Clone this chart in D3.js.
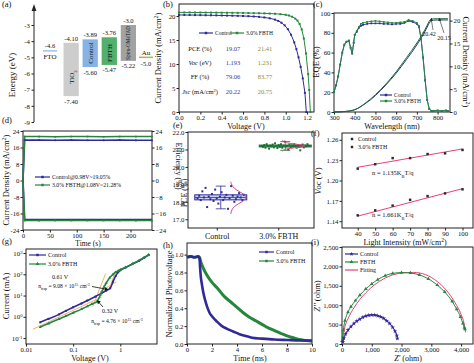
<!DOCTYPE html>
<html>
<head>
<meta charset="utf-8">
<script src="https://cdn.jsdelivr.net/npm/d3@7"></script>
<style>
  body { margin: 0; background: #fff; }
  svg text { font-family: "Liberation Serif", "Times New Roman", serif; fill: #111; }
  .tick text { font-size: 6.8px; font-family: "Liberation Serif", serif; }
  .tick line { stroke: #222; }
</style>
</head>
<body>
<script>
// ---------- data ----------
// (a) energy levels (eV)
const levelNames = ["TiO2", "Control", "FBTH", "Spiro-OMeTAD"];
const levelTop = [-4.10, -3.89, -3.76, -3.0];
const levelBottom = [-7.40, -5.60, -5.47, -5.22];
const levelTopText = ["-4.10", "-3.89", "-3.76", "-3.0"];
const levelBottomText = ["-7.40", "-5.60", "-5.47", "-5.22"];
const electrodeNames = ["FTO", "Au"];
const electrodeLevel = [-4.6, -5.0];
const electrodeText = ["-4.6", "-5.0"];

// (b) J-V
const jvCtrlV = [0, 0.05, 0.1, 0.15, 0.2, 0.25, 0.3, 0.35, 0.4, 0.45, 0.5, 0.55, 0.6, 0.65, 0.7, 0.75, 0.8, 0.85, 0.9, 0.93, 0.96, 0.99, 1.02, 1.05, 1.08, 1.1, 1.12, 1.14, 1.16, 1.18, 1.193];
const jvCtrlJ = [20.22, 20.21, 20.2, 20.19, 20.18, 20.16, 20.15, 20.13, 20.11, 20.09, 20.06, 20.03, 20.0, 19.96, 19.9, 19.82, 19.7, 19.52, 19.25, 18.98, 18.6, 18.05, 17.25, 16.1, 14.5, 13.1, 11.4, 9.4, 7.0, 4.0, 0];
const jvFbthV = [0, 0.05, 0.1, 0.15, 0.2, 0.25, 0.3, 0.35, 0.4, 0.45, 0.5, 0.55, 0.6, 0.65, 0.7, 0.75, 0.8, 0.85, 0.9, 0.95, 1.0, 1.03, 1.06, 1.09, 1.11, 1.13, 1.15, 1.17, 1.19, 1.21, 1.22, 1.231];
const jvFbthJ = [20.75, 20.74, 20.74, 20.73, 20.73, 20.72, 20.71, 20.7, 20.69, 20.68, 20.67, 20.66, 20.64, 20.62, 20.6, 20.58, 20.55, 20.51, 20.46, 20.38, 20.25, 20.1, 19.85, 19.45, 19.05, 18.35, 17.2, 15.3, 12.2, 7.9, 4.6, 0];
const tableRows = ["PCE (%)", "Voc (eV)", "FF (%)", "Jsc (mA/cm2)"];
const tableCtrl = ["19.07", "1.193", "79.06", "20.22"];
const tableFbth = ["21.41", "1.231", "83.77", "20.75"];

// (c) EQE and integrated current
const eqeWl = [300, 310, 320, 330, 340, 350, 360, 372, 380, 388, 395, 400, 410, 420, 430, 440, 460, 480, 500, 520, 540, 560, 580, 600, 620, 640, 660, 680, 700, 710, 720, 730, 740, 750, 760, 770, 780, 800, 820, 840, 850];
const eqeCtrl = [20, 27, 36, 48, 60, 68, 71, 72, 65, 59, 70, 78, 81, 85, 87, 88, 89, 89.5, 89.5, 89.5, 89, 89, 88.5, 89, 89, 90, 92, 91, 89, 86, 74, 55, 32, 12, 3, 1, 1, 1.5, 1, 1.5, 1];
const eqeFbth = [20, 27, 36, 48, 60, 68, 71, 72, 65, 59, 70, 78, 82, 86, 89, 90, 91, 91.5, 92, 91.5, 91, 90.5, 90, 90, 90.5, 91, 93, 92, 90, 87, 75, 55, 32, 12, 3, 1, 1, 1.5, 1, 1.5, 1];
const integWl = [300, 350, 400, 450, 500, 550, 600, 650, 700, 730, 750, 760, 770, 780, 800, 850];
const integCtrl = [0, 0.1, 0.5, 1.8, 3.6, 5.9, 8.5, 11.5, 14.7, 16.9, 18.6, 19.5, 19.9, 20.1, 20.15, 20.15];
const integFbth = [0, 0.1, 0.5, 1.9, 3.8, 6.1, 8.8, 11.9, 15.1, 17.3, 19.0, 19.9, 20.3, 20.4, 20.42, 20.42];

// (d) steady-state output
const mppTime = [0, 3, 30, 60, 90, 120, 150, 180, 210, 240];
const mppCtrlJ = [0, 19.6, 19.6, 19.5, 19.6, 19.5, 19.5, 19.6, 19.5, 19.5];
const mppFbthJ = [0, 21.3, 21.3, 21.2, 21.3, 21.3, 21.2, 21.3, 21.3, 21.3];
const mppCtrlEff = [0, -18.9, -18.9, -18.9, -18.9, -18.9, -18.9, -18.9, -18.9, -18.9];
const mppFbthEff = [0, -19.4, -19.4, -19.4, -19.4, -19.4, -19.4, -19.4, -19.4, -19.4];

// (e) PCE statistics
const pceCats = ["Control", "3.0% FBTH"];
const pceCtrl = [18.2, 18.35, 18.1, 18.6, 18.25, 18.8, 17.7, 18.3, 18.15, 18.45, 18.05, 18.7, 18.2, 17.9, 18.3, 18.55, 18.1, 18.25, 18.4, 17.6, 18.2, 18.9, 18.35, 18.0, 18.15, 18.3, 18.5, 18.25, 18.1, 18.4];
const pceFbth = [21.2, 21.15, 21.25, 21.1, 21.3, 21.2, 21.05, 21.22, 21.18, 21.28, 21.12, 21.35, 21.2, 21.08, 21.25, 21.15, 21.3, 21.1, 21.22, 21.45, 21.18, 21.2, 21.0, 21.27, 21.13, 21.23, 21.17, 21.3, 21.2, 21.1, 21.25, 21.15, 20.95, 21.2, 21.28, 21.12, 21.22, 21.18, 21.3, 21.2];
const distCtrlV = [19.15, 18.95, 18.78, 18.6, 18.42, 18.25, 18.08, 17.9, 17.72, 17.55, 17.3];
const distFbthV = [21.52, 21.44, 21.37, 21.31, 21.26, 21.2, 21.15, 21.1, 21.04, 20.98, 20.9];
const distDensity = [0, 0.06, 0.2, 0.5, 0.85, 1, 0.85, 0.5, 0.2, 0.06, 0];

// (f) Voc vs light intensity
const lightI = [40, 50, 60, 70, 80, 90, 100];
const vocFbth = [1.2175, 1.224, 1.233, 1.233, 1.239, 1.240, 1.245];
const vocCtrl = [1.1486, 1.156, 1.163, 1.1715, 1.177, 1.181, 1.187];
const fitI = [40, 100];
const fitFbth = [1.2195, 1.2465];
const fitCtrl = [1.1475, 1.188];

// (g) SCLC
const sclcV = [0.02, 0.03, 0.05, 0.07, 0.1, 0.15, 0.2, 0.3, 0.4, 0.5, 0.61, 0.7, 0.8, 0.9, 1.0, 1.3, 1.8, 2.5, 3.2, 4.0];
const sclcCtrl = [0.55, 0.8, 1.3, 1.9, 2.8, 4.2, 5.8, 9, 13, 17, 22, 45, 85, 125, 155, 210, 300, 430, 600, 800];
const sclcFbthV = [0.02, 0.03, 0.05, 0.07, 0.1, 0.15, 0.2, 0.25, 0.32, 0.38, 0.45, 0.5, 0.6, 0.7, 0.8, 0.9, 1.0, 1.3, 1.8, 2.5, 3.2, 4.0];
const sclcFbth = [0.33, 0.48, 0.78, 1.1, 1.55, 2.3, 3.1, 4.0, 5.2, 11, 25, 38, 70, 100, 125, 145, 165, 215, 310, 450, 620, 850];
const sclcFitV = [[0.014, 0.4], [0.26, 0.49], [0.37, 0.83], [0.58, 0.78]];
const sclcFitI = [[0.26, 8.5], [3.1, 110], [15, 45], [18, 140]];

// (h) transient photovoltage
const tpvCtrlT = [0, 0.3, 0.6, 0.9, 1.0, 1.05, 1.1, 1.2, 1.3, 1.45, 1.6, 1.8, 2.0, 2.4, 2.8, 3.2, 3.7, 4.2, 4.7, 5.2, 6, 7, 8, 9, 10];
const tpvCtrl = [0.97, 0.98, 0.97, 0.98, 0.96, 0.85, 0.76, 0.66, 0.58, 0.49, 0.42, 0.35, 0.31, 0.25, 0.2, 0.17, 0.14, 0.11, 0.09, 0.07, 0.06, 0.05, 0.045, 0.04, 0.04];
const tpvFbthT = [0, 0.3, 0.6, 0.9, 1.0, 1.1, 1.3, 1.6, 2.0, 2.4, 3.0, 3.5, 4.0, 4.5, 5.0, 5.5, 6.0, 6.5, 7.0, 7.5, 8.0, 8.5, 9.0, 9.5, 10];
const tpvFbth = [0.97, 0.98, 0.97, 0.98, 0.97, 0.92, 0.85, 0.77, 0.69, 0.63, 0.53, 0.47, 0.41, 0.35, 0.3, 0.26, 0.22, 0.18, 0.15, 0.12, 0.09, 0.07, 0.05, 0.04, 0.03];

// (i) Nyquist
const eisCtrlRe = [30, 60, 120, 200, 300, 400, 500, 600, 700, 800, 900, 1000, 1100, 1200, 1300, 1400, 1500, 1600, 1700, 1780, 1840, 1860];
const eisCtrlIm = [60, 150, 260, 360, 450, 530, 590, 640, 690, 720, 740, 750, 745, 730, 700, 660, 600, 530, 430, 330, 220, 140];
const eisFbthRe = [0, 40, 100, 200, 300, 450, 600, 800, 1000, 1200, 1450, 1700, 2000, 2300, 2600, 2900, 3200, 3450, 3700, 3850, 3980, 4060, 4110, 4130];
const eisFbthIm = [80, 350, 600, 820, 960, 1120, 1260, 1420, 1550, 1660, 1760, 1820, 1840, 1830, 1780, 1680, 1520, 1340, 1100, 900, 700, 530, 420, 380];
const fitFbthRe = [0, 100, 200, 400, 600, 800, 1100, 1400, 1700, 2000, 2400, 2800, 3200, 3500, 3800, 4000, 4100, 4150];
const fitFbthIm = [0, 450, 650, 930, 1150, 1320, 1530, 1680, 1780, 1830, 1845, 1790, 1610, 1390, 1060, 760, 530, 300];
const fitCtrlRe = [0, 100, 300, 500, 700, 900, 1100, 1300, 1500, 1700, 1800, 1850];
const fitCtrlIm = [0, 200, 440, 590, 690, 745, 750, 705, 605, 440, 300, 170];

// ---------- helpers ----------
const blue = "#2e2a98", green = "#24873c", pink = "#e6407e", orange = "#f3a85c";
const svg = d3.select("body").append("svg").attr("width", 474).attr("height", 363);

function txt(g, x, y, parts, o = {}) {
  const t = g.append("text").attr("x", x).attr("y", y)
    .attr("font-size", o.size || 8)
    .attr("text-anchor", o.anchor || "start");
  if (o.rot) t.attr("transform", `rotate(${o.rot},${x},${y})`);
  if (o.color) t.style("fill", o.color);
  [].concat(parts).forEach(p => {
    if (typeof p === "string") p = { t: p };
    const s = t.append("tspan").text(p.t);
    if (p.sub) s.attr("baseline-shift", "sub").attr("font-size", "70%");
    if (p.sup) s.attr("baseline-shift", "super").attr("font-size", "70%");
    if (p.i) s.attr("font-style", "italic");
  });
  return t;
}

function axes(g, box, x, y, o) {
  const bx = d3.axisBottom(x).tickValues(o.xt).tickSize(2.5).tickSizeOuter(0).tickPadding(0.5);
  if (o.xf) bx.tickFormat(o.xf);
  const ax = g.append("g").attr("transform", `translate(0,${box.b})`).call(bx);
  const ly = d3.axisLeft(y).tickValues(o.yt).tickSize(2.5).tickSizeOuter(0).tickPadding(1);
  if (o.yf) ly.tickFormat(o.yf);
  const ay = g.append("g").attr("transform", `translate(${box.l},0)`).call(ly);
  g.selectAll(".domain").remove();
  g.append("rect").attr("x", box.l).attr("y", box.t)
    .attr("width", box.r - box.l).attr("height", box.b - box.t)
    .attr("fill", "none").attr("stroke", "#222").attr("stroke-width", 1);
  return [ax, ay];
}

function rightAxis(g, box, y, ticks) {
  g.append("g").attr("transform", `translate(${box.r},0)`)
    .call(d3.axisRight(y).tickValues(ticks).tickSize(2.5).tickPadding(1))
    .select(".domain").remove();
}

function line(g, xs, ys, x, y, color, w, curve) {
  return g.append("path").datum(d3.zip(xs, ys))
    .attr("d", d3.line().x(d => x(d[0])).y(d => y(d[1])).curve(curve || d3.curveLinear))
    .attr("fill", "none").attr("stroke", color).attr("stroke-width", w);
}

function marks(g, xs, ys, x, y, color, shape, size) {
  g.append("g").selectAll("path").data(d3.zip(xs, ys)).join("path")
    .attr("d", d3.symbol(shape, size))
    .attr("transform", d => `translate(${x(d[0])},${y(d[1])})`)
    .attr("fill", color);
}

function legendRow(g, x, y, color, shape, label, size, len) {
  len = len || 14;
  g.append("line").attr("x1", x).attr("x2", x + len).attr("y1", y).attr("y2", y)
    .attr("stroke", color).attr("stroke-width", 1.2);
  if (shape) g.append("path").attr("d", d3.symbol(shape, 6)).attr("transform", `translate(${x + len / 2},${y})`).attr("fill", color);
  txt(g, x + len + 2, y + 2, label, { size: size || 6 });
}

function panelLabel(x, y, s) { txt(svg, x, y, s, { size: 8.5 }); }

// ---------- (a) energy diagram ----------
const gA = svg.append("g");
const yA = d3.scaleLinear([-9, -3], [122, 25]);
const xA = d3.scaleBand(levelNames, [63.5, 136]).paddingInner(0.2);
const barFill = ["#cdcdcd", "#86b2e4", "#52b06c", "#a2a2a2"];
gA.append("line").attr("x1", 34).attr("x2", 34).attr("y1", 122).attr("y2", 10).attr("stroke", "#222");
gA.append("path").attr("d", "M34,4L31.6,11L36.4,11Z").attr("fill", "#222");
gA.append("g").attr("transform", "translate(34,0)")
  .call(d3.axisLeft(yA).tickValues(d3.range(-9, -2)).tickSize(2.5).tickPadding(1.5).tickFormat(d => "-" + Math.abs(d)))
  .select(".domain").remove();
gA.selectAll(".bar").data(levelNames).join("rect")
  .attr("x", d => xA(d)).attr("width", xA.bandwidth())
  .attr("y", (d, i) => yA(levelTop[i]))
  .attr("height", (d, i) => yA(levelBottom[i]) - yA(levelTop[i]))
  .attr("fill", (d, i) => barFill[i]);
levelNames.forEach((n, i) => {
  const cx = xA(n) + xA.bandwidth() / 2;
  txt(gA, cx, yA(levelTop[i]) - 2, levelTopText[i], { size: 6.5, anchor: "middle" });
  txt(gA, cx, yA(levelBottom[i]) + 7.5, levelBottomText[i], { size: 6.5, anchor: "middle" });
  const midY = i === 0 ? 77 : i === 3 ? 43 : 53;
  const sz = i === 3 ? 5.2 : 7;
  const lab = i === 0 ? ["TiO", { t: "2", sub: true }] : n;
  txt(gA, cx + sz * 0.35, midY, lab, { size: sz, anchor: "middle", rot: -90 });
});
const elX = [[43, 57], [139, 153]];
const elColor = ["#9cc3e8", "#bdb046"];
electrodeNames.forEach((n, i) => {
  const yy = yA(electrodeLevel[i]);
  gA.append("line").attr("x1", elX[i][0]).attr("x2", elX[i][1]).attr("y1", yy).attr("y2", yy)
    .attr("stroke", elColor[i]).attr("stroke-width", 1.5);
  const cx = (elX[i][0] + elX[i][1]) / 2;
  if (i === 0) {
    txt(gA, cx, yy - 2.5, electrodeText[i], { size: 6.5, anchor: "middle" });
    txt(gA, cx, yy + 8, n, { size: 7, anchor: "middle" });
  } else {
    txt(gA, cx, yy - 2.5, n, { size: 7, anchor: "middle" });
    txt(gA, cx, yy + 9, electrodeText[i], { size: 6.5, anchor: "middle" });
  }
});
txt(gA, 15, 75, "Energy (eV)", { size: 9, anchor: "middle", rot: -90 });
panelLabel(2, 7, "(a)");

// ---------- (b) J-V ----------
const gB = svg.append("g");
const boxB = { l: 179, r: 314, t: 4, b: 112 };
const xB = d3.scaleLinear([0, 1.265], [boxB.l, boxB.r]);
const yB = d3.scaleLinear([0, 22.5], [boxB.b, boxB.t]);
axes(gB, boxB, xB, yB, { xt: d3.range(0, 1.21, 0.2), xf: d3.format(".1f"), yt: [0, 5, 10, 15, 20] });
line(gB, jvCtrlV, jvCtrlJ, xB, yB, blue, 1);
marks(gB, jvCtrlV, jvCtrlJ, xB, yB, blue, d3.symbolSquare, 4);
line(gB, jvFbthV, jvFbthJ, xB, yB, green, 1);
marks(gB, jvFbthV, jvFbthJ, xB, yB, green, d3.symbolSquare, 4);
legendRow(gB, 199, 33, blue, d3.symbolSquare, "Control", 5.5);
legendRow(gB, 230, 33, green, d3.symbolSquare, "3.0% FBTH", 5.5);
const rowLab = [
  "PCE (%)",
  [{ t: "V", i: true }, { t: "oc", i: true }, " (eV)"],
  "FF (%)",
  [{ t: "J", i: true }, { t: "sc", i: true }, " (mA/cm", { t: "2", sup: true }, ")"]
];
tableRows.forEach((r, i) => {
  const yy = 51 + i * 14.2;
  txt(gB, 200, yy, rowLab[i], { size: 6.5, anchor: "middle" });
  txt(gB, 233, yy, tableCtrl[i], { size: 6.5, anchor: "middle", color: "#3b3a9c" });
  txt(gB, 265, yy, tableFbth[i], { size: 6.5, anchor: "middle", color: "#8f8c2e" });
});
txt(gB, 161, 58, ["Current Density (mA/cm", { t: "2", sup: true }, ")"], { size: 8.5, anchor: "middle", rot: -90 });
txt(gB, 246, 128.5, "Voltage (V)", { size: 8, anchor: "middle" });
panelLabel(163, 7, "(b)");

// ---------- (c) EQE ----------
const gC = svg.append("g");
const boxC = { l: 334, r: 450, t: 13, b: 112 };
const xC = d3.scaleLinear([300, 860], [boxC.l, boxC.r]);
const yC = d3.scaleLinear([0, 100], [boxC.b, boxC.t]);
const yC2 = d3.scaleLinear([0, 21.67], [boxC.b, boxC.t]);
axes(gC, boxC, xC, yC, { xt: d3.range(300, 801, 100), yt: d3.range(0, 101, 20) });
rightAxis(gC, boxC, yC2, [0, 5, 10, 15, 20]);
line(gC, integWl, integCtrl, xC, yC2, "#223a5e", 1, d3.curveMonotoneX);
line(gC, integWl, integFbth, xC, yC2, "#1f6a47", 1, d3.curveMonotoneX);
line(gC, eqeWl, eqeCtrl, xC, yC, blue, 0.9);
marks(gC, eqeWl, eqeCtrl, xC, yC, blue, d3.symbolSquare, 3);
line(gC, eqeWl, eqeFbth, xC, yC, green, 0.9);
marks(gC, eqeWl, eqeFbth, xC, yC, green, d3.symbolSquare, 3);
legendRow(gC, 380, 95, blue, d3.symbolSquare, "Control", 5.5, 12);
legendRow(gC, 380, 101, green, d3.symbolSquare, "3.0% FBTH", 5.5, 12);
const arrowC = (x1, y1, x2, y2) => {
  gC.append("line").attr("x1", x1).attr("y1", y1).attr("x2", x2).attr("y2", y2).attr("stroke", "#222").attr("stroke-width", 0.6);
  gC.append("path").attr("d", d3.symbol(d3.symbolTriangle, 5)).attr("transform", `translate(${x2},${y2})`).attr("fill", "#222");
};
arrowC(433, 30, xC(770), yC2(20.42) + 1);
arrowC(444, 33, xC(810), yC2(20.42) + 1);
txt(gC, 429, 36, "20.42", { size: 6, anchor: "middle" });
txt(gC, 444, 40, "20.15", { size: 6, anchor: "middle" });
txt(gC, 319, 62, "EQE (%)", { size: 8.5, anchor: "middle", rot: -90 });
txt(gC, 463, 62, ["Current Density (mA/cm", { t: "2", sup: true }, ")"], { size: 8.5, anchor: "middle", rot: 90 });
txt(gC, 392, 128.5, "Wavelength (nm)", { size: 8, anchor: "middle" });
panelLabel(313, 7, "(c)");

// ---------- (d) steady output ----------
const gD = svg.append("g");
const boxD = { l: 23, r: 152, t: 131, b: 230 };
const xD = d3.scaleLinear([0, 240], [boxD.l, boxD.r]);
const yD = d3.scaleLinear([-24, 24], [boxD.b, boxD.t]);
axes(gD, boxD, xD, yD, { xt: [0, 50, 100, 150, 200], yt: d3.range(-24, 25, 8), yf: d => d });
rightAxis(gD, boxD, yD, d3.range(-24, 25, 8));
line(gD, mppTime, mppCtrlEff, xD, yD, blue, 1.6);
line(gD, mppTime, mppFbthEff, xD, yD, green, 1.6);
line(gD, mppTime, mppCtrlJ, xD, yD, blue, 1.6);
line(gD, mppTime, mppFbthJ, xD, yD, green, 1.6);
marks(gD, mppTime, mppCtrlJ, xD, yD, blue, d3.symbolSquare, 3);
marks(gD, mppTime, mppFbthJ, xD, yD, green, d3.symbolSquare, 3);
marks(gD, mppTime, mppFbthEff, xD, yD, green, d3.symbolSquare, 3);
legendRow(gD, 35, 177, blue, d3.symbolSquare, "Control@0.98V~19.05%", 5.8, 15);
legendRow(gD, 35, 185, green, d3.symbolSquare, "3.0% FBTH@1.08V~21.28%", 5.8, 15);
txt(gD, 9, 180, ["Current Density (mA/cm", { t: "2", sup: true }, ")"], { size: 8.5, anchor: "middle", rot: -90 });
txt(gD, 176, 166, "Efficiency (%)", { size: 8, anchor: "middle", rot: 90 });
txt(gD, 88, 245.5, "Time (s)", { size: 7.5, anchor: "middle" });
panelLabel(2, 123, "(d)");

// ---------- (e) PCE box ----------
const gE = svg.append("g");
const boxE = { l: 188, r: 314, t: 132, b: 228 };
const xE = d3.scalePoint(pceCats, [186, 309]).padding(0.5);
const yE = d3.scaleLinear([16.5, 22], [boxE.b, boxE.t]);
axes(gE, boxE, xE, yE, { xt: pceCats, yt: [17, 18, 19, 20, 21, 22] });
gE.selectAll("g .tick text").filter(d => typeof d === "string").style("font-size", "8px").attr("dy", "1em");
const boxStyle = [
  { fill: "#cdd5f4", stroke: blue, pt: blue, shift: 4, curveShift: 14, amp: 16 },
  { fill: "#5abd6e", stroke: "#1c6e33", pt: "#1c6e33", shift: 7, curveShift: 4, amp: 24 }
];
[pceCtrl, pceFbth].forEach((vals, k) => {
  const st = boxStyle[k];
  const cx = xE(pceCats[k]) + st.shift;
  const half = 26;
  const s = vals.slice().sort(d3.ascending);
  const q1 = d3.quantile(s, 0.25), med = d3.quantile(s, 0.5), q3 = d3.quantile(s, 0.75);
  const [lo, hi] = d3.extent(s);
  gE.append("line").attr("x1", cx).attr("x2", cx).attr("y1", yE(lo)).attr("y2", yE(hi)).attr("stroke", st.stroke).attr("stroke-width", 0.8);
  [lo, hi].forEach(v => gE.append("line").attr("x1", cx - 5).attr("x2", cx + 5).attr("y1", yE(v)).attr("y2", yE(v)).attr("stroke", st.stroke).attr("stroke-width", 0.8));
  gE.append("rect").attr("x", cx - half).attr("width", half * 2).attr("y", yE(q3)).attr("height", yE(q1) - yE(q3))
    .attr("fill", st.fill).attr("stroke", st.stroke).attr("stroke-width", 1);
  gE.append("line").attr("x1", cx - half).attr("x2", cx + half).attr("y1", yE(med)).attr("y2", yE(med)).attr("stroke", st.stroke).attr("stroke-width", 0.8);
  gE.append("g").selectAll("path").data(vals).join("path")
    .attr("d", d3.symbol(d3.symbolSquare, 4))
    .attr("transform", (d, i) => `translate(${cx - half + 2 + (i + 0.5) * (2 * half - 4) / vals.length},${yE(d)})`)
    .attr("fill", st.pt);
  const dv = k === 0 ? distCtrlV : distFbthV;
  const base = xE(pceCats[k]) + st.curveShift;
  gE.append("path").datum(d3.zip(dv, distDensity))
    .attr("d", d3.line().x(d => base + d[1] * st.amp).y(d => yE(d[0])).curve(d3.curveBasis))
    .attr("fill", "none").attr("stroke", pink).attr("stroke-width", 1);
});
txt(gE, 187, 193, "PCE (%)", { size: 8, anchor: "middle", rot: -90 });
panelLabel(173, 128, "(e)");

// ---------- (f) Voc vs light ----------
const gF = svg.append("g");
const boxF = { l: 342, r: 473, t: 133, b: 228 };
const xF = d3.scaleLinear([31, 106], [boxF.l, boxF.r]);
const yF = d3.scaleLinear([1.13, 1.27], [boxF.b, boxF.t]);
axes(gF, boxF, xF, yF, { xt: d3.range(40, 101, 10), yt: [1.14, 1.17, 1.20, 1.23, 1.26], yf: d3.format(".2f") });
line(gF, fitI, fitFbth, xF, yF, pink, 1);
line(gF, fitI, fitCtrl, xF, yF, pink, 1);
marks(gF, lightI, vocFbth, xF, yF, "#2a2a2a", d3.symbolSquare, 6);
marks(gF, lightI, vocCtrl, xF, yF, "#2a2a2a", d3.symbolSquare, 6);
gF.append("path").attr("d", d3.symbol(d3.symbolSquare, 6)).attr("transform", "translate(352,139)").attr("fill", "#2a2a2a");
gF.append("path").attr("d", d3.symbol(d3.symbolSquare, 6)).attr("transform", "translate(352,147)").attr("fill", "#2a2a2a");
txt(gF, 358, 141, "Control", { size: 6 });
txt(gF, 358, 149, "3.0% FBTH", { size: 6 });
txt(gF, 372, 175, ["n = 1.135K", { t: "B", sub: true }, "T/q"], { size: 6.5 });
txt(gF, 372, 217, ["n = 1.661K", { t: "B", sub: true }, "T/q"], { size: 6.5 });
txt(gF, 321, 181, [{ t: "V", i: true }, { t: "oc" }, " (V)"], { size: 8.5, anchor: "middle", rot: -90 });
txt(gF, 405, 245, ["Light Intensity (mW/cm", { t: "2", sup: true }, ")"], { size: 8, anchor: "middle" });
panelLabel(311, 136, "(f)");

// ---------- (g) SCLC ----------
const gG = svg.append("g");
const boxG = { l: 26, r: 157, t: 249, b: 344 };
const xG = d3.scaleLog([0.01, 6], [boxG.l, boxG.r]);
const yG = d3.scaleLog([0.0525, 1550], [boxG.b, boxG.t]);
const [, ayG] = axes(gG, boxG, xG, yG, { xt: [0.01, 0.1, 1], xf: d => String(d), yt: [0.1, 1, 10, 100, 1000] });
ayG.selectAll(".tick text").each(function (d) {
  const t = d3.select(this);
  t.text("10");
  t.append("tspan").attr("baseline-shift", "super").attr("font-size", "70%").text(Math.round(Math.log10(d)));
});
sclcFitV.forEach((v, i) => line(gG, v, sclcFitI[i], xG, yG, orange, 0.9));
line(gG, sclcV, sclcCtrl, xG, yG, blue, 1.6, d3.curveMonotoneX);
marks(gG, sclcV, sclcCtrl, xG, yG, blue, d3.symbolSquare, 4);
line(gG, sclcFbthV, sclcFbth, xG, yG, green, 1.6, d3.curveMonotoneX);
marks(gG, sclcFbthV, sclcFbth, xG, yG, green, d3.symbolTriangle, 4);
legendRow(gG, 29, 255, blue, d3.symbolSquare, "Control", 6, 17);
legendRow(gG, 29, 264, green, d3.symbolTriangle, "3.0% FBTH", 6, 17);
const arrowG = (x1, y1, x2, y2) => {
  gG.append("line").attr("x1", x1).attr("y1", y1).attr("x2", x2).attr("y2", y2).attr("stroke", "#111").attr("stroke-width", 0.8);
  const ang = Math.atan2(y2 - y1, x2 - x1) * 180 / Math.PI + 90;
  gG.append("path").attr("d", d3.symbol(d3.symbolTriangle, 7)).attr("transform", `translate(${x2},${y2}) rotate(${ang})`).attr("fill", "#111");
};
arrowG(92, 286.5, xG(0.55) - 2, yG(20));
arrowG(103, 307, xG(0.33) + 1, yG(5.5) + 1);
txt(gG, 60, 279, "0.61 V", { size: 6, anchor: "middle" });
txt(gG, 64, 288, [{ t: "n" }, { t: "trap", sub: true }, " = 9.08 × 10", { t: "15", sup: true }, " cm", { t: "-3", sup: true }], { size: 5.6, anchor: "middle" });
txt(gG, 110, 313, "0.32 V", { size: 6, anchor: "middle" });
txt(gG, 117, 323, [{ t: "n" }, { t: "trap", sub: true }, " = 4.76 × 10", { t: "15", sup: true }, " cm", { t: "-3", sup: true }], { size: 5.6, anchor: "middle" });
txt(gG, 9, 296, "Current (mA)", { size: 8.5, anchor: "middle", rot: -90 });
txt(gG, 90, 361, "Voltage (V)", { size: 8, anchor: "middle" });
panelLabel(2, 244, "(g)");

// ---------- (h) TPV ----------
const gH = svg.append("g");
const boxH = { l: 187, r: 312, t: 243, b: 344 };
const xH = d3.scaleLinear([0, 10], [boxH.l, boxH.r]);
const yH = d3.scaleLinear([0, 1.13], [boxH.b, boxH.t]);
axes(gH, boxH, xH, yH, { xt: d3.range(0, 11, 2), yt: d3.range(0, 1.01, 0.2), yf: d3.format(".1f") });
line(gH, tpvFbthT, tpvFbth, xH, yH, green, 3, d3.curveMonotoneX);
line(gH, tpvCtrlT, tpvCtrl, xH, yH, blue, 2.6, d3.curveMonotoneX);
legendRow(gH, 259, 252, blue, d3.symbolSquare, "Control", 6, 15);
legendRow(gH, 259, 261, green, d3.symbolSquare, "3.0% FBTH", 6, 15);
txt(gH, 172, 294, "Normalized Photovoltage", { size: 8.5, anchor: "middle", rot: -90 });
txt(gH, 250, 361, "Time (ms)", { size: 8, anchor: "middle" });
panelLabel(163, 248, "(h)");

// ---------- (i) Nyquist ----------
const gI = svg.append("g");
const boxI = { l: 342, r: 473, t: 247, b: 344 };
const xI = d3.scaleLinear([0, 4400], [boxI.l, boxI.r]);
const yI = d3.scaleLinear([0, 2500], [boxI.b, boxI.t]);
axes(gI, boxI, xI, yI, { xt: d3.range(0, 4001, 1000), yt: d3.range(0, 2501, 500) });
line(gI, fitFbthRe, fitFbthIm, xI, yI, pink, 1, d3.curveMonotoneX);
line(gI, eisFbthRe, eisFbthIm, xI, yI, green, 1, d3.curveMonotoneX);
marks(gI, eisFbthRe, eisFbthIm, xI, yI, green, d3.symbolTriangle, 6);
line(gI, fitCtrlRe, fitCtrlIm, xI, yI, pink, 1, d3.curveMonotoneX);
line(gI, eisCtrlRe, eisCtrlIm, xI, yI, blue, 1, d3.curveMonotoneX);
marks(gI, eisCtrlRe, eisCtrlIm, xI, yI, blue, d3.symbolStar, 7);
legendRow(gI, 345, 254, blue, d3.symbolStar, "Control", 6, 13);
legendRow(gI, 345, 262, green, d3.symbolTriangle, "FBTH", 6, 13);
legendRow(gI, 345, 270, pink, null, "Fitting", 6, 13);
txt(gI, 320, 296, [{ t: "Z''", i: true }, " (ohm)"], { size: 8.5, anchor: "middle", rot: -90 });
txt(gI, 408, 361, [{ t: "Z'", i: true }, " (ohm)"], { size: 8, anchor: "middle" });
panelLabel(311, 245, "(i)");
</script>
</body>
</html>
